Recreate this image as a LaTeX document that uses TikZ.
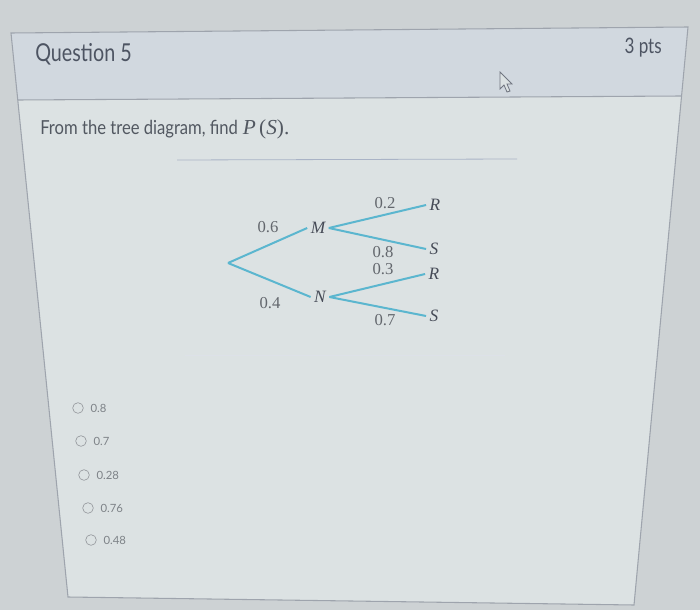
\documentclass[tikz,border=0pt]{standalone}
\usepackage{fontspec}
\setmainfont{Lato}
\newfontfamily\treefont{Liberation Serif}
\usetikzlibrary{positioning}

\definecolor{screengray}{HTML}{CDD2D4}
\definecolor{cardbody}{HTML}{DCE2E3}
\definecolor{headerblue}{HTML}{D1D8DF}
\definecolor{cardline}{HTML}{9EA4AD}
\definecolor{titlegray}{HTML}{4D5462}
\definecolor{bodygray}{HTML}{525861}
\definecolor{branchblue}{HTML}{5BB6CF}
\definecolor{eventgray}{HTML}{464B57}
\definecolor{probgray}{HTML}{63676D}
\definecolor{answergray}{HTML}{7D8287}
\definecolor{rulecol}{HTML}{A9B3C6}

\begin{document}
\begin{tikzpicture}[x=0.75pt, y=-0.75pt]

% Define styles
\tikzstyle{branch} = [draw=branchblue, line width=1.5pt]
\tikzstyle{event} = [font=\treefont\itshape\fontsize{13}{14}\selectfont, text=eventgray, inner sep=2.5pt]
\tikzstyle{prob} = [font=\treefont\fontsize{12.5}{13}\selectfont, text=probgray, inner sep=1pt]
\tikzstyle{choice} = [draw=answergray!80, line width=0.5pt, circle, minimum size=8pt, inner sep=0pt]
\tikzstyle{answer} = [font=\fontsize{8.5}{10}\selectfont, text=answergray, inner sep=0pt]

% Screen and card
\useasboundingbox (0,0) rectangle (700,610);
\fill[screengray] (0,0) rectangle (700,610);
\fill[cardbody] (11,33) -- (688,27) -- (634,605) -- (68,597) -- cycle;
\fill[headerblue] (11,33) -- (688,27) -- (681,96) -- (18,100) -- cycle;
\draw[cardline, line width=0.8pt] (11,33) -- (688,27) -- (634,605) -- (68,597) -- cycle;
\draw[cardline, line width=0.8pt] (18,100) -- (681,96);

% Header and question
\node[anchor=base west, font=\fontsize{18.5}{20}\selectfont, text=titlegray, inner sep=0pt] (title) at (35,62) {\scalebox{0.8}[1]{Question 5}};
\node[anchor=base east, font=\fontsize{16}{18}\selectfont, text=titlegray, inner sep=0pt] (pts) at (662,54) {\scalebox{0.8}[1]{3 pts}};
\node[anchor=base west, font=\fontsize{14.5}{16}\selectfont, text=bodygray, inner sep=0pt] (question) at (40,134)
  {\scalebox{0.86}[1]{From the tree diagram, find} {\treefont\fontsize{16}{17}\selectfont\itshape P}\,{\treefont\fontsize{16}{17}\selectfont(\textit{S}).}};

% Mouse pointer
\filldraw[fill=cardbody, draw=titlegray!80, line width=0.6pt]
  (500,72) -- (500,89) -- (504,85) -- (507,92) -- (510,91) -- (507,84) -- (512,84) -- cycle;

% Rules round the tree
\draw[rulecol, line width=0.6pt] (177,160) -- (517,159);
\draw[rulecol!40, line width=0.5pt] (185,355) -- (505,355);

% Tree nodes
\coordinate (root) at (228,263);
\node[event] (M) at (318,228) {M};
\node[event] (N) at (320,297) {N};
\node[event] (R1) at (435,205) {R};
\node[event] (S1) at (434,249) {S};
\node[event] (R2) at (434,274) {R};
\node[event] (S2) at (434,316) {S};

% Branches
\draw[branch] (root) -- (M.west);
\draw[branch] (root) -- (N.west);
\draw[branch] (M.east) -- (R1.west);
\draw[branch] (M.east) -- (S1.west);
\draw[branch] (N.east) -- (R2.west);
\draw[branch] (N.east) -- (S2.west);

% Probabilities
\node[prob] (pM) at (268,227) {0.6};
\node[prob] (pN) at (270,303) {0.4};
\node[prob] (pMR) at (385,203) {0.2};
\node[prob] (pMS) at (383,252) {0.8};
\node[prob] (pNR) at (383,269) {0.3};
\node[prob] (pNS) at (385,320) {0.7};

% Answer choices
\node[choice] (c1) at (78,408) {};
\node[answer, right=5pt of c1] (a1) {0.8};
\node[choice] (c2) at (81,441) {};
\node[answer, right=5pt of c2] (a2) {0.7};
\node[choice] (c3) at (84,475) {};
\node[answer, right=5pt of c3] (a3) {0.28};
\node[choice] (c4) at (88,508) {};
\node[answer, right=5pt of c4] (a4) {0.76};
\node[choice] (c5) at (91,540) {};
\node[answer, right=5pt of c5] (a5) {0.48};

\end{tikzpicture}
\end{document}
